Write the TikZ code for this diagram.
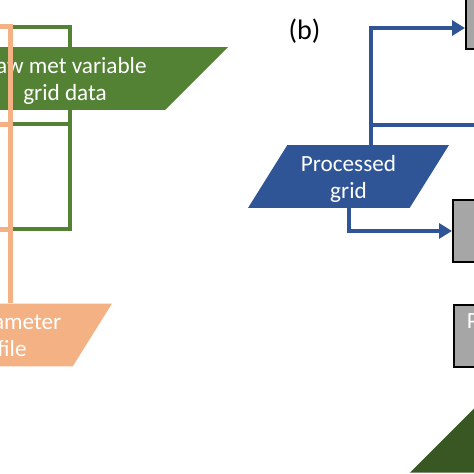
\documentclass[tikz,border=0pt]{standalone}
\usepackage{fontspec}
\setmainfont{Carlito}
\usetikzlibrary{arrows.meta,shapes.geometric}
\definecolor{rawgreen}{HTML}{548235}
\definecolor{deepgreen}{HTML}{385723}
\definecolor{paramorange}{HTML}{F4B183}
\definecolor{gridblue}{HTML}{2F5597}
\definecolor{stepgray}{HTML}{A6A6A6}
\tikzset{
  datain/.style  = {trapezium, trapezium stretches body, inner xsep=0pt, inner ysep=2.7pt,
                    text=white, align=center, text height=27.5pt, text depth=2.9pt,
                    font=\fontsize{13.2}{15.4}\selectfont},
  stepbox/.style = {rectangle, draw=black, line width=1.1pt, fill=stepgray,
                    inner sep=0pt, minimum width=1.6cm, minimum height=1.24cm,
                    anchor=north west},
  gline/.style   = {draw=rawgreen, line width=0.08cm},
  oline/.style   = {draw=paramorange, line width=0.1cm},
  bline/.style   = {draw=gridblue, line width=0.08cm},
  flow/.style    = {bline, -{Triangle[length=0.26cm, width=0.3cm]}},
}

\begin{document}
\begin{tikzpicture}[x=0.02cm, y=-0.02cm]
  \useasboundingbox (0,0) rectangle (474,474);
  \clip (0,0) rectangle (474,474);

  % panel (a), right part
  \node[datain, fill=rawgreen, trapezium left angle=45, trapezium right angle=135,
        minimum width=6.52cm] (rawgrid) at (65,78.5)
        {Raw met variable\\grid data};
  \node[datain, fill=paramorange, trapezium left angle=58, trapezium right angle=122,
        minimum width=4cm] (params) at (12,335)
        {Parameter\\file};

  \coordinate (gcol) at (70,0);
  \coordinate (ocol) at (10.5,0);
  \coordinate (gtop) at (-10,26.5);
  \coordinate (gmid) at (-10,124);
  \coordinate (gbot) at (-10,229);

  \draw[gline] (gcol |- rawgrid.north) |- (gtop);
  \draw[gline] (gcol |- rawgrid.south) |- (gbot);
  \draw[gline] (gcol |- gmid) -- (gmid);
  \draw[oline] (gtop) -| (ocol |- params.north);
  \draw[oline] (gmid) -- (ocol |- gmid);
  \draw[oline] (gbot) -- (ocol |- gbot);

  % panel (b), left part
  \node[font=\fontsize{16}{19}\selectfont, inner sep=0pt] (tagb) at (304.5,31.5) {(b)};
  \node[datain, fill=gridblue, trapezium left angle=58, trapezium right angle=122,
        minimum width=4.02cm] (procgrid) at (348.5,176.5)
        {Processed\\grid};

  \node[stepbox, minimum height=1.5cm, anchor=south west] (box1) at (465,50) {};
  \node[stepbox] (box2) at (452,199) {};
  \node[stepbox] (box3) at (453,304) {};
  \node[text=white, font=\fontsize{13.2}{15.4}\selectfont, inner sep=0pt,
        anchor=base west] (box3txt) at (466.5,328) {P};
  \node[trapezium, trapezium stretches body, fill=deepgreen, inner xsep=0pt,
        inner ysep=18.2pt, trapezium left angle=45, trapezium right angle=135,
        minimum width=4cm, anchor=bottom left corner] (outgrid) at (409,473) {};

  \coordinate (bcol) at (371,0);
  \coordinate (bcol2) at (349,0);
  \coordinate (bturn) at (371,28);
  \coordinate (bmid) at (490,124.5);

  \draw[flow] (bcol |- procgrid.north) -- (bturn) -- (box1.west |- bturn);
  \draw[bline] (bcol |- bmid) -- (bmid);
  \draw[flow] (bcol2 |- procgrid.south) |- (box2.west);
\end{tikzpicture}
\end{document}
